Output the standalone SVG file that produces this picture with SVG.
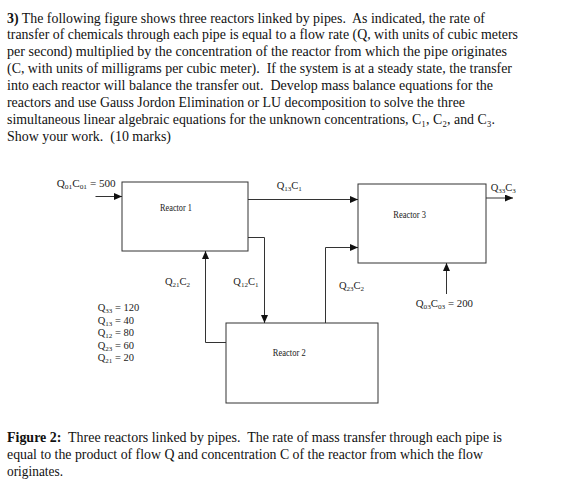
<svg xmlns="http://www.w3.org/2000/svg" width="573" height="502" viewBox="0 0 573 502">
<defs>
<style>
.t{font-family:"Liberation Serif","Times New Roman",serif;font-size:14.5px;fill:#111;}
.b{font-weight:bold;}
.d{font-family:"Liberation Serif","Times New Roman",serif;font-size:10.5px;fill:#222;}
.s{font-size:7px;}
.r{font-family:"Liberation Serif","Times New Roman",serif;font-size:9.5px;fill:#222;}
.box{fill:#fff;stroke:#333;stroke-width:1;}
.c{fill:none;stroke:#333;stroke-width:1;}
</style>
<marker id="ah" markerUnits="userSpaceOnUse" markerWidth="9" markerHeight="8" refX="8" refY="3.5" orient="auto">
<path d="M0,0 L8,3.5 L0,7 z" fill="#111"/>
</marker>
</defs>
<rect width="573" height="502" fill="#fff"/>

<g id="question">
<text class="t" x="7" y="22.5" textLength="478" lengthAdjust="spacingAndGlyphs" xml:space="preserve"><tspan class="b">3)</tspan> The following figure shows three reactors linked by pipes.  As indicated, the rate of</text>
<text class="t" x="7" y="39.4" textLength="511" lengthAdjust="spacingAndGlyphs" xml:space="preserve">transfer of chemicals through each pipe is equal to a flow rate (Q, with units of cubic meters</text>
<text class="t" x="7" y="56.3" textLength="500" lengthAdjust="spacingAndGlyphs" xml:space="preserve">per second) multiplied by the concentration of the reactor from which the pipe originates</text>
<text class="t" x="7" y="73.2" textLength="505" lengthAdjust="spacingAndGlyphs" xml:space="preserve">(C, with units of milligrams per cubic meter).  If the system is at a steady state, the transfer</text>
<text class="t" x="7" y="90.1" textLength="486" lengthAdjust="spacingAndGlyphs" xml:space="preserve">into each reactor will balance the transfer out.  Develop mass balance equations for the</text>
<text class="t" x="7" y="107" textLength="458" lengthAdjust="spacingAndGlyphs" xml:space="preserve">reactors and use Gauss Jordon Elimination or LU decomposition to solve the three</text>
<text class="t" x="7" y="123.9" textLength="488" lengthAdjust="spacingAndGlyphs" xml:space="preserve">simultaneous linear algebraic equations for the unknown concentrations, C₁, C₂, and C₃.</text>
<text class="t" x="7" y="140.8" textLength="164" lengthAdjust="spacingAndGlyphs" xml:space="preserve">Show your work.  (10 marks)</text>
</g>

<g id="reactor1">
<rect class="box" x="122" y="182" width="126" height="69"/>
<text class="r" x="160" y="211" textLength="32" lengthAdjust="spacingAndGlyphs">Reactor 1</text>
</g>
<g id="reactor3">
<rect class="box" x="358" y="184" width="128" height="79"/>
<text class="r" x="393.3" y="217.7" textLength="32.7" lengthAdjust="spacingAndGlyphs">Reactor 3</text>
</g>
<g id="reactor2">
<rect class="box" x="226" y="323" width="152" height="80"/>
<text class="r" x="272.7" y="355.7" textLength="33" lengthAdjust="spacingAndGlyphs">Reactor 2</text>
</g>

<g id="connectors">
<path class="c" d="M95.5,196.5 H122" marker-end="url(#ah)"/>
<path class="c" d="M248,199.5 H358" marker-end="url(#ah)"/>
<path class="c" d="M248,237.5 H264.5 V323" marker-end="url(#ah)"/>
<path class="c" d="M226,342.5 H205.5 V251" marker-end="url(#ah)"/>
<path class="c" d="M325.5,323 V247.5 H358" marker-end="url(#ah)"/>
<path class="c" d="M486,198 H513" marker-end="url(#ah)"/>
<path class="c" d="M446.5,294 V263" marker-end="url(#ah)"/>
</g>

<g id="labels">
<text class="d" x="56.7" y="186.7" textLength="59" lengthAdjust="spacingAndGlyphs">Q<tspan class="s" dy="2">01</tspan><tspan dy="-2">C</tspan><tspan class="s" dy="2">01</tspan><tspan dy="-2"> = 500</tspan></text>
<text class="d" x="276.7" y="189">Q<tspan class="s" dy="2">13</tspan><tspan dy="-2">C</tspan><tspan class="s" dy="2">1</tspan></text>
<text class="d" x="490.7" y="190.5">Q<tspan class="s" dy="2">33</tspan><tspan dy="-2">C</tspan><tspan class="s" dy="2">3</tspan></text>
<text class="d" x="165" y="285">Q<tspan class="s" dy="2">21</tspan><tspan dy="-2">C</tspan><tspan class="s" dy="2">2</tspan></text>
<text class="d" x="233.3" y="285">Q<tspan class="s" dy="2">12</tspan><tspan dy="-2">C</tspan><tspan class="s" dy="2">1</tspan></text>
<text class="d" x="339" y="289">Q<tspan class="s" dy="2">23</tspan><tspan dy="-2">C</tspan><tspan class="s" dy="2">2</tspan></text>
<text class="d" x="415.7" y="306.7" textLength="57.3" lengthAdjust="spacingAndGlyphs">Q<tspan class="s" dy="2">03</tspan><tspan dy="-2">C</tspan><tspan class="s" dy="2">03</tspan><tspan dy="-2"> = 200</tspan></text>
</g>

<g id="legend">
<text class="d" x="97.7" y="311">Q<tspan class="s" dy="2">33</tspan><tspan dy="-2"> = 120</tspan></text>
<text class="d" x="97.7" y="323.5">Q<tspan class="s" dy="2">13</tspan><tspan dy="-2"> = 40</tspan></text>
<text class="d" x="97.7" y="336">Q<tspan class="s" dy="2">12</tspan><tspan dy="-2"> = 80</tspan></text>
<text class="d" x="97.7" y="348.5">Q<tspan class="s" dy="2">23</tspan><tspan dy="-2"> = 60</tspan></text>
<text class="d" x="97.7" y="361">Q<tspan class="s" dy="2">21</tspan><tspan dy="-2"> = 20</tspan></text>
</g>

<g id="caption">
<text class="t" x="7" y="441.7" textLength="495" lengthAdjust="spacingAndGlyphs" xml:space="preserve"><tspan class="b">Figure 2:</tspan>  Three reactors linked by pipes.  The rate of mass transfer through each pipe is</text>
<text class="t" x="7" y="458.5" textLength="476" lengthAdjust="spacingAndGlyphs" xml:space="preserve">equal to the product of flow Q and concentration C of the reactor from which the flow</text>
<text class="t" x="7" y="475.5" textLength="56" lengthAdjust="spacingAndGlyphs" xml:space="preserve">originates.</text>
</g>
</svg>
